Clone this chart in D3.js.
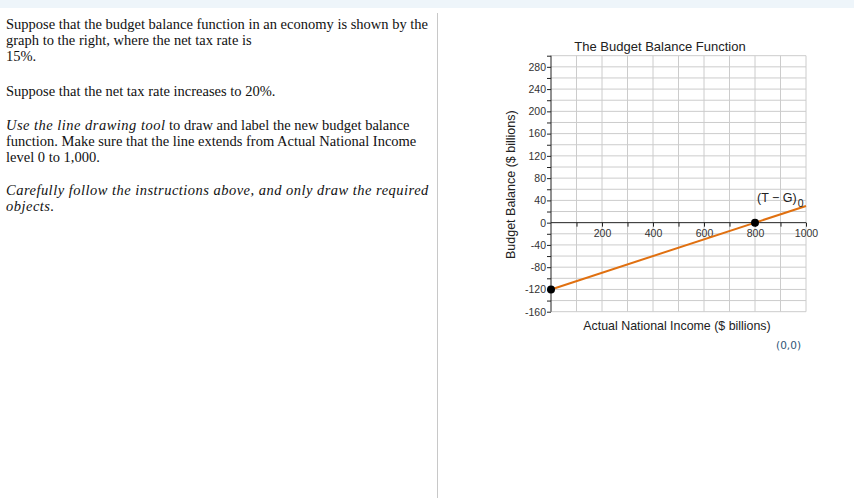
<!DOCTYPE html>
<html>
<head>
<meta charset="utf-8">
<script src="https://cdn.jsdelivr.net/npm/d3@7"></script>
<style>
  body { margin: 0; background: #fff; width: 854px; height: 498px; overflow: hidden; position: relative; }
  .topstrip { position: absolute; left: 0; top: 0; width: 854px; height: 8px; background: #eef5fa; }
  .divider { position: absolute; left: 437px; top: 13px; width: 1px; height: 485px; background: #c8c8c8; }
  #question { position: absolute; left: 0; top: 0; }
  #chart { position: absolute; left: 440px; top: 0; }
</style>
</head>
<body>
<div class="topstrip"></div>
<div class="divider"></div>
<div id="question"></div>
<div id="chart"></div>
<script>
// question text, one entry per rendered line: [baseline, [ [text, italic], ... ] ]
const questionLines = [
    [28.5, [["Suppose that the budget balance function in an economy is shown by the", false]]],
    [45, [["graph to the right, where the net tax rate is", false]]],
    [61, [["15%.", false]]],
    [96, [["Suppose that the net tax rate increases to 20%.", false]]],
    [129.5, [["Use the line drawing tool", true], [" to draw and label the new budget balance", false]]],
    [145.5, [["function. Make sure that the line extends from Actual National Income", false]]],
    [162, [["level 0 to 1,000.", false]]],
    [195, [["Carefully follow the instructions above, and only draw the required", true]]],
    [211, [["objects.", true]]]
];

// budget balance line (T-G)0 : 15% net tax rate
const lineIncome = [0, 1000];
const lineBalance = [-120, 30];
// the two marked points on the line
const pointIncome = [0, 800];
const pointBalance = [-120, 0];
// axis ticks
const xTickLabels = [200, 400, 600, 800, 1000];
const yTickLabels = [-160, -120, -80, -40, 0, 40, 80, 120, 160, 200, 240, 280];
const xGrid = [100, 200, 300, 400, 500, 600, 700, 800, 900, 1000];
const yGrid = [-160, -140, -120, -100, -80, -60, -40, -20, 20, 40, 60, 80, 100, 120, 140, 160, 180, 200, 220, 240, 260, 280, 300];

function drawQuestion() {
    const svg = d3.select("#question").append("svg").attr("width", 436).attr("height", 240)
        .style("font-family", "'Liberation Serif', 'Times New Roman', serif").style("font-size", "14.5px");
    questionLines.forEach(function (line) {
        const t = svg.append("text").attr("x", 6).attr("y", line[0]).attr("fill", "#111");
        line[1].forEach(function (part) {
            const s = t.append("tspan").text(part[0]).attr("xml:space", "preserve").style("white-space", "pre");
            if (part[1]) {
                s.style("font-style", "italic").style("letter-spacing", "0.48px");
            }
        });
    });
}

function drawChart() {
    "use strict";
    const w = 414, h = 498;
    const left = 111, right = 366, top = 55.7, bottom = 311.7;

    const svg = d3.select("#chart").append("svg").attr("width", w).attr("height", h)
        .style("font-family", "Arial, 'Liberation Sans', sans-serif");

    const x = d3.scaleLinear().domain([0, 1000]).range([left, right]);
    const y = d3.scaleLinear().domain([-160, 300]).range([bottom, top]);

    // grid
    svg.append("g").selectAll("line").data(xGrid).enter().append("line")
        .attr("x1", d => x(d)).attr("x2", d => x(d))
        .attr("y1", y(300)).attr("y2", y(-160))
        .attr("stroke", "#cccccc").attr("stroke-width", 1);
    svg.append("g").selectAll("line").data(yGrid).enter().append("line")
        .attr("x1", x(0)).attr("x2", x(1000))
        .attr("y1", d => y(d)).attr("y2", d => y(d))
        .attr("stroke", "#cccccc").attr("stroke-width", 1);

    // y axis, minor ticks every 20
    const yAxis = d3.axisLeft(y).tickValues(d3.range(-160, 301, 20)).tickSize(4)
        .tickFormat(d => yTickLabels.includes(d) ? d : "");
    const gy = svg.append("g").attr("transform", `translate(${x(0)},0)`).call(yAxis);
    gy.select(".domain").attr("stroke", "#222").attr("d", `M0,${y(-160)}V${y(300)}`);
    gy.selectAll(".tick line").attr("stroke", "#222");
    gy.selectAll(".tick text").attr("fill", "#333").style("font-size", "10.5px")
        .style("font-family", "Arial, 'Liberation Sans', sans-serif").attr("x", -5);

    // x axis at zero balance
    const xAxis = d3.axisBottom(x).tickValues(xGrid).tickSize(4)
        .tickFormat(d => xTickLabels.includes(d) ? d : "");
    const gx = svg.append("g").attr("transform", `translate(0,${y(0)})`).call(xAxis);
    gx.select(".domain").attr("stroke", "#222").attr("d", `M${x(0)},0H${x(1000)}`);
    gx.selectAll(".tick line").attr("stroke", "#222");
    gx.selectAll(".tick text").attr("fill", "#333").style("font-size", "10.5px")
        .style("font-family", "Arial, 'Liberation Sans', sans-serif").attr("y", 7);

    // budget balance line
    const pts = lineIncome.map((d, i) => [d, lineBalance[i]]);
    svg.append("path").datum(pts)
        .attr("d", d3.line().x(d => x(d[0])).y(d => y(d[1])))
        .attr("fill", "none").attr("stroke", "#e07010").attr("stroke-width", 2);

    svg.selectAll("circle.pt").data(pointIncome).enter().append("circle")
        .attr("class", "pt")
        .attr("cx", d => x(d)).attr("cy", (d, i) => y(pointBalance[i]))
        .attr("r", 4).attr("fill", "#000");

    // line label
    const lbl = svg.append("text").attr("x", x(800) + 2).attr("y", y(40) + 2)
        .attr("fill", "#222").style("font-size", "12.5px");
    lbl.append("tspan").text("(T \u2212 G)");
    lbl.append("tspan").attr("dx", 1).attr("dy", 5).style("font-size", "10.5px").text("0");

    // titles
    svg.append("text").attr("x", 220).attr("y", 51).attr("text-anchor", "middle")
        .attr("fill", "#222").style("font-size", "13px").text("The Budget Balance Function");
    svg.append("text").attr("transform", `translate(75,${(top + bottom) / 2 + 1}) rotate(-90)`)
        .attr("text-anchor", "middle").attr("fill", "#222").style("font-size", "12.5px")
        .text("Budget Balance ($ billions)");
    svg.append("text").attr("x", 237).attr("y", 330).attr("text-anchor", "middle")
        .attr("fill", "#222").style("font-size", "12.4px").text("Actual National Income ($ billions)");

    // cursor readout
    svg.append("text").attr("x", 361).attr("y", 349).attr("text-anchor", "end")
        .attr("fill", "#2f5577").style("font-size", "10.5px").style("font-family", "'DejaVu Sans', sans-serif")
        .text("(0,0)");
}

drawQuestion();
drawChart();
</script>
</body>
</html>
